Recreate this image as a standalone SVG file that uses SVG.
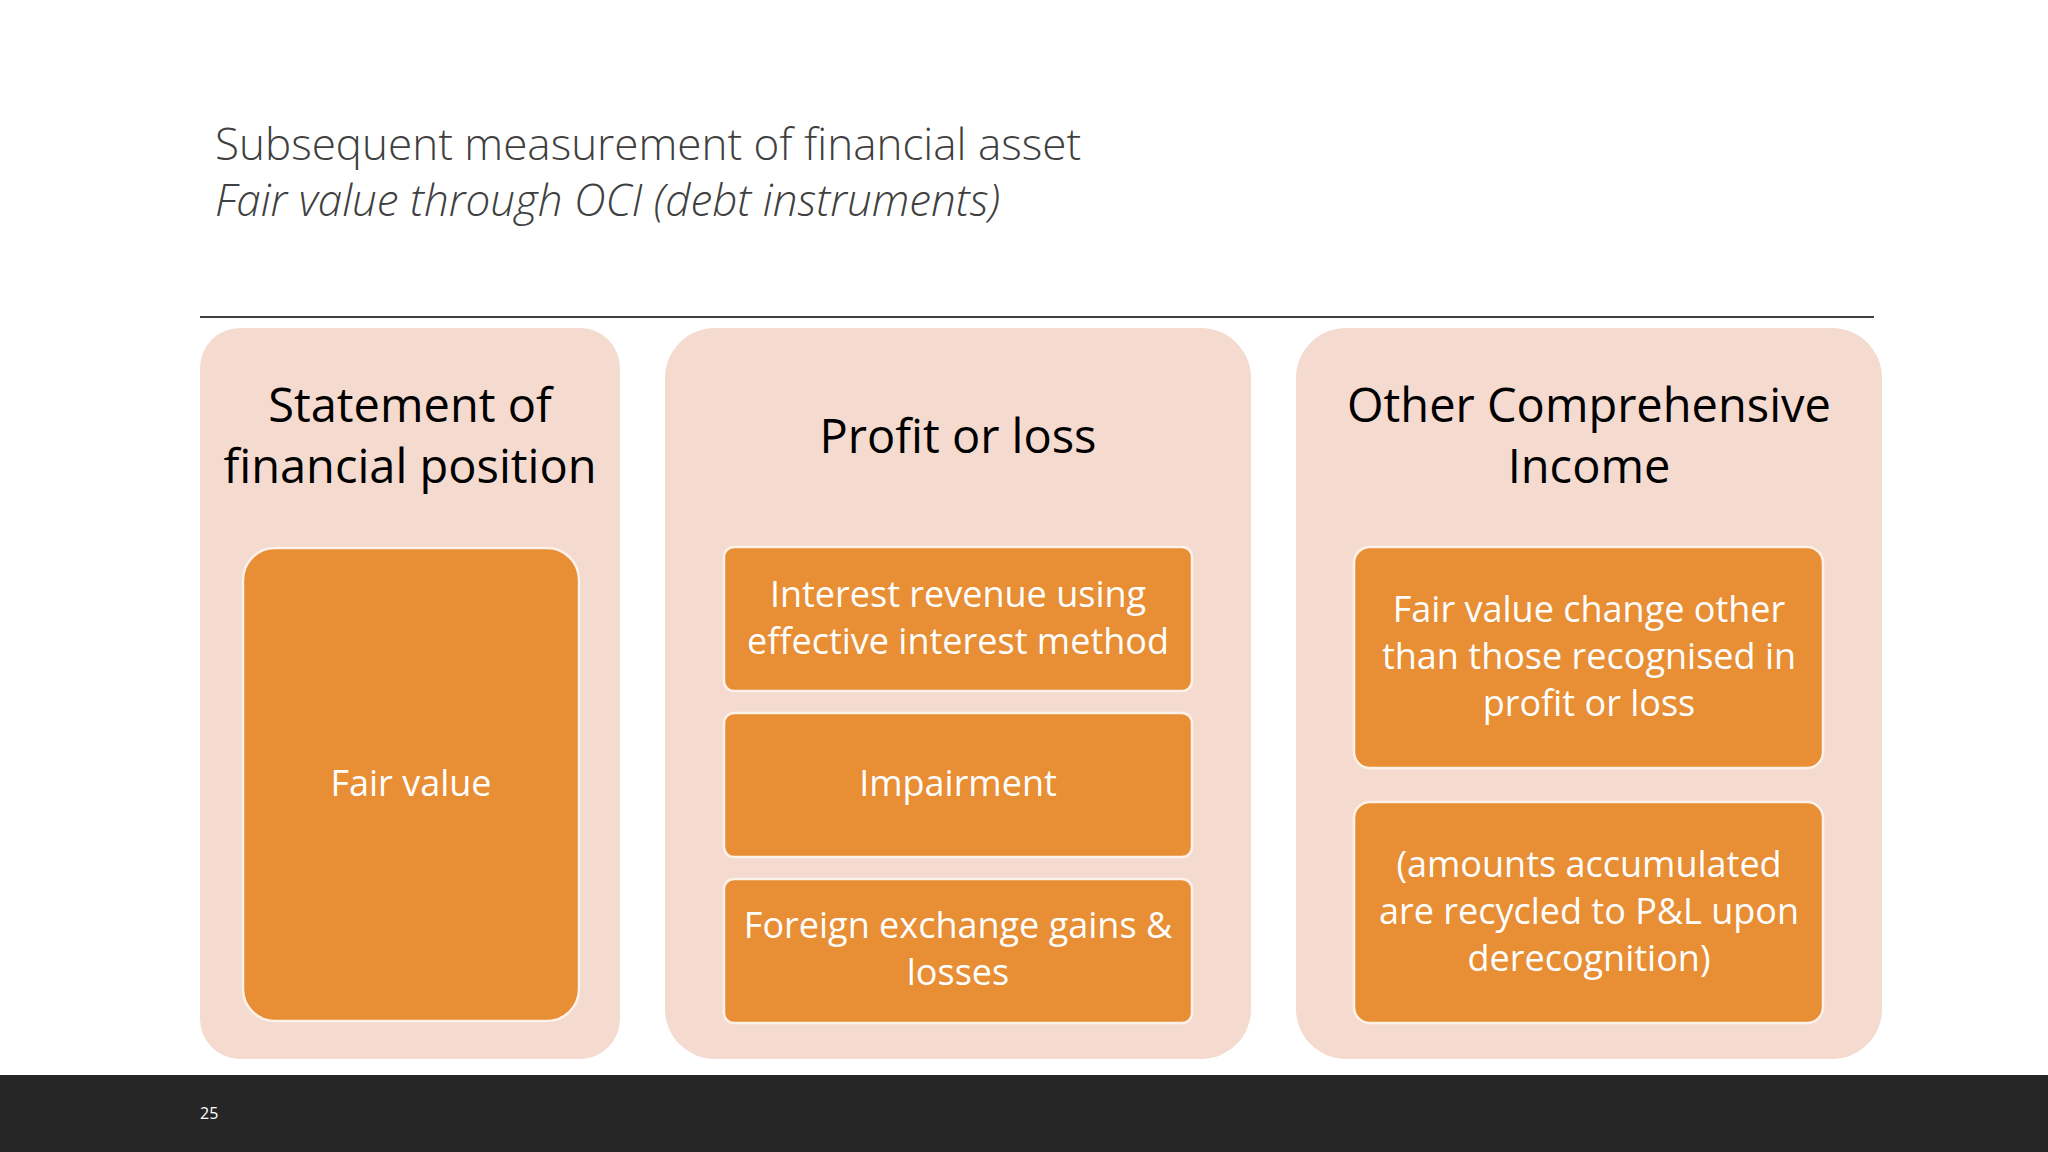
<svg xmlns="http://www.w3.org/2000/svg" width="2048" height="1152" viewBox="0 0 2048 1152">
<style>
.col{fill:#f5dacf}
.box{fill:#e88e35;stroke:#fdf1ea;stroke-width:2.5}
.h{font-family:"Open Sans","Liberation Sans",sans-serif;font-size:47px;fill:#000;text-anchor:middle}
.t{font-family:"Open Sans","Liberation Sans",sans-serif;font-size:36px;fill:#fff;text-anchor:middle}
.title{font-family:"Open Sans","Liberation Sans",sans-serif;font-size:44px;fill:#404040;font-weight:300}
</style>
<rect width="2048" height="1152" fill="#fff"/>
<text class="title" x="215" y="160">Subsequent measurement of financial asset</text>
<text class="title" x="215" y="216" font-style="italic">Fair value through OCI (debt instruments)</text>
<line x1="200" y1="317" x2="1874" y2="317" stroke="#404040" stroke-width="2"/>
<g id="col1">
<rect class="col" x="200" y="328" width="420" height="731" rx="40"/>
<text class="h" x="410" y="422">Statement of</text>
<text class="h" x="410" y="483">financial position</text>
</g>
<g id="col2">
<rect class="col" x="665" y="328" width="586" height="731" rx="50"/>
<text class="h" x="958" y="453">Profit or loss</text>
</g>
<g id="col3">
<rect class="col" x="1296" y="328" width="586" height="731" rx="50"/>
<text class="h" x="1589" y="422">Other Comprehensive</text>
<text class="h" x="1589" y="483">Income</text>
</g>
<g id="fairvalue">
<rect class="box" x="243" y="548" width="336" height="473" rx="32"/>
<text class="t" x="411" y="796">Fair value</text>
</g>
<g id="interest">
<rect class="box" x="724" y="547" width="468" height="144" rx="10"/>
<text class="t" x="958" y="607">Interest revenue using</text>
<text class="t" x="958" y="654">effective interest method</text>
</g>
<g id="impairment">
<rect class="box" x="724" y="713" width="468" height="144" rx="10"/>
<text class="t" x="958" y="796">Impairment</text>
</g>
<g id="fx">
<rect class="box" x="724" y="879" width="468" height="144" rx="10"/>
<text class="t" x="958" y="938">Foreign exchange gains &amp;</text>
<text class="t" x="958" y="985">losses</text>
</g>
<g id="fvchange">
<rect class="box" x="1354" y="547" width="469" height="221" rx="16"/>
<text class="t" x="1589" y="622">Fair value change other</text>
<text class="t" x="1589" y="669">than those recognised in</text>
<text class="t" x="1589" y="716">profit or loss</text>
</g>
<g id="recycled">
<rect class="box" x="1354" y="802" width="469" height="221" rx="16"/>
<text class="t" x="1589" y="877">(amounts accumulated</text>
<text class="t" x="1589" y="924">are recycled to P&amp;L upon</text>
<text class="t" x="1589" y="971">derecognition)</text>
</g>
<g id="connectors"/>
<rect x="0" y="1075" width="2048" height="77" fill="#262626"/>
<text x="200" y="1119" font-family="Open Sans, sans-serif" font-size="16" fill="#fff">25</text>
</svg>
